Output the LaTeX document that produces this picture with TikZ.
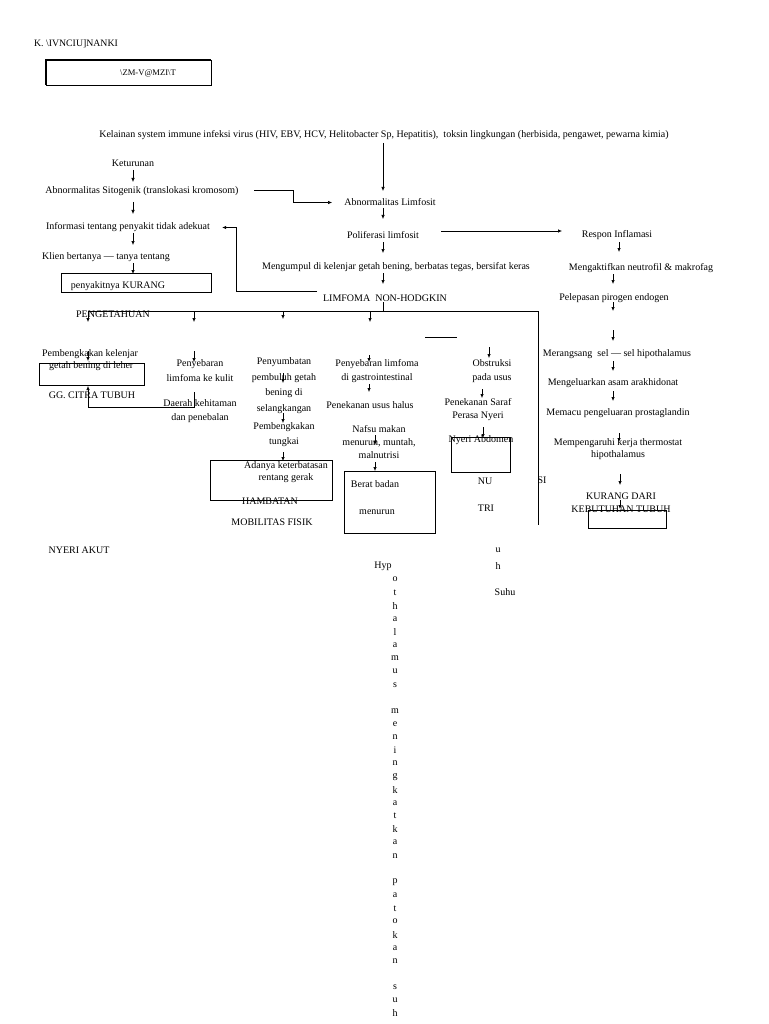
\documentclass[tikz,border=0pt]{standalone}
\usepackage{fontspec}
\setmainfont{Liberation Serif}
\usetikzlibrary{arrows.meta}
\newcommand{\fz}[1]{\fontsize{10}{#1}\selectfont}
\begin{document}
\begin{tikzpicture}[x=1pt,y=-1pt,
  t/.style={font=\fz{13.5}, inner sep=0pt, align=center, yshift=-1.5pt},
  arr/.style={-{Latex[length=4pt,width=3.4pt]}, line width=0.6pt},
  ln/.style={line width=0.6pt},
  bx/.style={draw, line width=0.8pt}]
\useasboundingbox (0,0) rectangle (768,1024);
\fill[white] (0,0) rectangle (768,1024);
% header
\node[t,font=\fontsize{9.8}{10}\selectfont] (hdr) at (76,42) {K.\ \textbackslash IVNCIU]NANKI};
\draw[bx] (46,85) rectangle (211,60);
\draw[line width=1.6pt] (46,85) -- (46,60) -- (211,60);
\node[t,font=\fontsize{8.6}{9}\selectfont] (htx) at (148,72) {\textbackslash ZM-V@MZI\textbackslash T};
% top chain
\node[t] (kel) at (384,134) {Kelainan system immune infeksi virus (HIV, EBV, HCV, Helitobacter Sp, Hepatitis),\ \ toksin lingkungan (herbisida, pengawet, pewarna kimia)};
\node[t] (ab) at (390,201) {Abnormalitas Limfosit};
\node[t] (pol) at (383,234) {Poliferasi limfosit};
\node[t] (meng) at (396,266) {Mengumpul di kelenjar getah bening, berbatas tegas, bersifat keras};
\node[t] (lim) at (385,297) {LIMFOMA\ \ NON-HODGKIN};
\draw[arr] (383,143) -- (383,191);
\draw[arr] (383,208) -- (383,219);
\draw[arr] (383,242) -- (383,253);
\draw[arr] (383,273) -- (383,284);
% left chain
\node[t] (ket) at (133,162) {Keturunan};
\node[t] (sito) at (142,190) {Abnormalitas Sitogenik (translokasi kromosom)};
\node[t] (info) at (128,226) {Informasi tentang penyakit tidak adekuat};
\node[t] (klien) at (106,256) {Klien bertanya --- tanya tentang};
\draw[bx] (61,273) rectangle (211,292);
\node[t] (kur) at (118,285) {penyakitnya KURANG};
\node[t] (peng) at (113,313) {PENGETAHUAN};
\draw[arr] (133,170) -- (133,182);
\draw[arr] (133,202) -- (133,214);
\draw[arr] (133,233) -- (133,245);
\draw[arr] (133,263) -- (133,274);
\draw[arr] (254,190) -- (293,190) |- ([xshift=-12pt]ab.west);
\draw[arr] (317,291) -- (236,291) |- ([xshift=12pt]info.east);
% branch line
\coordinate (bL) at (88,311);
\coordinate (bR) at (538,311);
\coordinate (bE) at (538,525);
\draw[ln] (383,302) -- (383,311);
\draw[ln] (bL) -- (bR) -- (bE);
\draw[arr] (88,311) -- (88,322);
\draw[arr] (194,311) -- (194,322);
\draw[arr] (283,311) -- (283,319);
\draw[arr] (370,311) -- (370,322);
\draw[ln] (425,337) -- (457,337);
% branch 1
\node[t,font=\fz{12}] (pk) at (90,359) {Pembengkakan kelenjar\\\ getah bening di leher};
\draw[bx] (39,363) rectangle (144,385);
\draw[arr] (88,351) -- (88,361);
\node[t] (gg) at (92,394) {GG. CITRA TUBUH};
\draw[arr] (194,392) -- (194,407) -- (88,407) -- (88,386);
% branch 2
\node[t,font=\fz{14.5}] (pen) at (200,369) {Penyebaran\\limfoma ke kulit};
\draw[arr] (194,351) -- (194,362);
\node[t,font=\fz{14}] (dae) at (200,410) {Daerah kehitaman\\dan penebalan};
% branch 3
\node[t,font=\fz{15.6}] (pyu) at (284,384) {Penyumbatan\\pembuluh getah\\bening di\\selangkangan};
\draw[arr] (283,373) -- (283,383);
\node[t,font=\fz{15}] (pbt) at (284,433) {Pembengkakan\\tungkai};
\draw[arr] (283,413) -- (283,423);
\draw[arr] (283,452) -- (283,461);
\draw[bx] (210,460) rectangle (332,500);
\node[t,font=\fz{12}] (ada) at (286,471) {Adanya keterbatasan\\rentang gerak};
\node[t] (ham) at (270,500) {HAMBATAN};
\node[t] (mob) at (272,521) {MOBILITAS FISIK};
% branch 4
\node[t,font=\fz{14}] (gas) at (377,370) {Penyebaran limfoma\\di gastrointestinal};
\draw[arr] (369,355) -- (369,362);
\draw[arr] (369,384) -- (369,392);
\node[t] (usus) at (370,404) {Penekanan usus halus};
\node[t,font=\fz{13}] (naf) at (379,441) {Nafsu makan\\menurun, muntah,\\malnutrisi};
\draw[arr] (375,435) -- (375,445);
\draw[arr] (375,462) -- (375,471);
\draw[bx] (344,471) rectangle (435,533);
\node[t] (bb) at (375,483) {Berat badan};
\node[t] (mnr) at (377,511) {menurun};
% branch 5
\node[t,font=\fz{14}] (obs) at (492,370) {Obstruksi\\pada usus};
\draw[arr] (489,347) -- (489,358);
\draw[arr] (482,389) -- (482,398);
\node[t,font=\fz{12.5}] (saraf) at (478,408) {Penekanan Saraf\\Perasa Nyeri};
\draw[bx] (451,437) rectangle (510,472);
\node[t] (nye) at (481,439) {Nyeri Abdomen};
\draw[arr] (483,427) -- (483,438);
\node[t] (nu) at (485,480) {NU};
\node[t] (tri) at (486,507) {TRI};
\node[t] (si) at (542,479) {SI};
\node[t] (u1) at (498,549) {u};
\node[t] (h1) at (498,565) {h};
\node[t] (suhu) at (505,591) {Suhu};
% right chain
\node[t] (resp) at (617,234) {Respon Inflamasi};
\draw[arr] (441,231) -- (562,231);
\node[t] (neu) at (641,267) {Mengaktifkan neutrofil \& makrofag};
\node[t] (pir) at (614,297) {Pelepasan pirogen endogen};
\node[t] (mer) at (617,353) {Merangsang\ \ sel --- sel hipothalamus};
\node[t] (ara) at (613,382) {Mengeluarkan asam arakhidonat};
\node[t] (pro) at (618,412) {Memacu pengeluaran prostaglandin};
\node[t,font=\fz{12}] (ter) at (618,448) {Mempengaruhi kerja thermostat\\hipothalamus};
\node[t,font=\fz{13}] (krg) at (621,501) {KURANG DARI\\KEBUTUHAN TUBUH};
\draw[bx] (588,510) rectangle (666,528);
\draw[arr] (619,242) -- (619,252);
\draw[arr] (613,274) -- (613,284);
\draw[arr] (613,302) -- (613,311);
\draw[arr] (613,330) -- (613,341);
\draw[arr] (613,361) -- (613,371);
\draw[arr] (613,391) -- (613,401);
\draw[arr] (619,433) -- (619,442);
\draw[arr] (620,474) -- (620,485);
\draw[arr] (620,500) -- (620,509);
% bottom
\node[t] (nyeri) at (79,549) {NYERI AKUT};
\node[t] (hyp) at (383,565) {Hyp};
\foreach \c [count=\i from 0] in {o,t,h,a,l,a,m,u,s,{},m,e,n,i,n,g,k,a,t,k,a,n,{},p,a,t,o,k,a,n,{},s,u,h}{
  \node[t] (v\i) at (395,578+13.15*\i) {\c};
}
\end{tikzpicture}
\end{document}
